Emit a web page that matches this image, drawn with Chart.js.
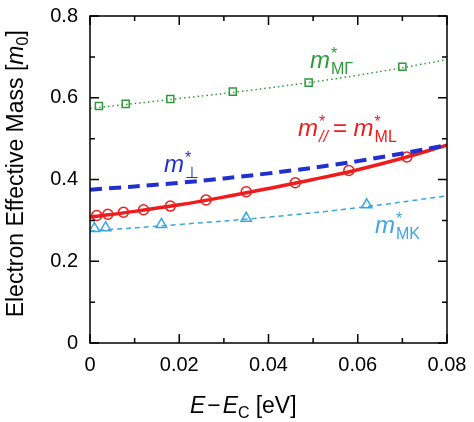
<!DOCTYPE html>
<html><head><meta charset="utf-8">
<script src="https://cdn.jsdelivr.net/npm/chart.js@4/dist/chart.umd.min.js"></script>
<style>body{margin:0;background:#fff}#c{display:block}</style>
</head><body>
<div style="width:474px;height:422px"><canvas id="c"></canvas></div>
<script>
const xTicks = [0, 0.02, 0.04, 0.06, 0.08];
const yTicks = [0, 0.2, 0.4, 0.6, 0.8];

const gammaLineX = [0, 0.02, 0.04, 0.06, 0.08];
const gammaLineY = [0.574, 0.598, 0.624, 0.655, 0.693];
const gammaPtsX = [0.002, 0.008, 0.018, 0.032, 0.049, 0.070];
const gammaPtsY = [0.580, 0.585, 0.597, 0.615, 0.637, 0.676];

const perpX = [0, 0.02, 0.04, 0.06, 0.08];
const perpY = [0.375, 0.392, 0.415, 0.445, 0.484];

const mlLineX = [0, 0.01, 0.02, 0.03, 0.04, 0.05, 0.06, 0.07, 0.08];
const mlLineY = [0.308, 0.322, 0.338, 0.357, 0.378, 0.400, 0.424, 0.452, 0.484];
const mlPtsX = [0.0015, 0.004, 0.0075, 0.012, 0.018, 0.026, 0.035, 0.046, 0.058, 0.071];
const mlPtsY = [0.312, 0.315, 0.320, 0.326, 0.335, 0.350, 0.370, 0.392, 0.422, 0.455];

const mkLineX = [0, 0.02, 0.04, 0.06, 0.08];
const mkLineY = [0.274, 0.290, 0.308, 0.331, 0.360];
const mkPtsX = [0.001, 0.0035, 0.016, 0.035, 0.062];
const mkPtsY = [0.280, 0.282, 0.290, 0.305, 0.338];

const green = '#2e9a3c', blue = '#1f2fd0', red = '#ee1c1c', cyan = '#3aa7e0';
const xy = (xs, ys) => xs.map((x, i) => ({x, y: ys[i]}));
const FONT = '"Liberation Sans", Arial, sans-serif';

function line(d, color, width, dash) {
  return {data: d, borderColor: color, borderWidth: width, borderDash: dash, pointRadius: 0, showLine: true, tension: 0.4, fill: false};
}
function pts(d, color, style, r) {
  return {data: d, borderColor: color, backgroundColor: '#fff', borderWidth: 1.5, pointStyle: style, pointRadius: r, showLine: false};
}

function mlabel(ctx, x, y, sub, color, extra) {
  ctx.save();
  ctx.fillStyle = color;
  ctx.textBaseline = 'alphabetic';
  ctx.font = 'italic 24px ' + FONT;
  ctx.fillText('m', x, y);
  const w = ctx.measureText('m').width;
  ctx.font = '16px ' + FONT;
  ctx.fillText('*', x + w + 1, y - 9);
  ctx.font = (sub === '//' ? 'italic ' : '') + '16px ' + FONT;
  ctx.fillText(sub, x + w + 1, y + 6);
  if (extra) {
    const sw = ctx.measureText(sub).width;
    let px = x + w + sw + 6;
    ctx.font = '24px ' + FONT;
    ctx.fillText('=', px, y);
    px += ctx.measureText('= ').width;
    ctx.font = 'italic 24px ' + FONT;
    ctx.fillText('m', px, y);
    ctx.font = '16px ' + FONT;
    ctx.fillText('*', px + w + 1, y - 9);
    ctx.fillText(extra, px + w + 1, y + 6);
  }
  ctx.restore();
}

const deco = {
  id: 'deco',
  afterDraw(chart) {
    const {ctx, chartArea: a, scales: {x, y}} = chart;
    ctx.save();
    ctx.strokeStyle = '#000';
    ctx.lineWidth = 1.5;
    ctx.strokeRect(a.left, a.top, a.right - a.left, a.bottom - a.top);
    ctx.beginPath();
    for (let v = 0; v <= 0.8001; v += 0.1) {
      const py = y.getPixelForValue(v), L = (Math.round(v * 10) % 2 === 0) ? 9 : 5;
      ctx.moveTo(a.left, py); ctx.lineTo(a.left + L, py);
      ctx.moveTo(a.right, py); ctx.lineTo(a.right - L, py);
    }
    for (let v = 0; v <= 0.0801; v += 0.01) {
      const px = x.getPixelForValue(v), L = (Math.round(v * 100) % 2 === 0) ? 9 : 5;
      ctx.moveTo(px, a.bottom); ctx.lineTo(px, a.bottom - L);
      ctx.moveTo(px, a.top); ctx.lineTo(px, a.top + L);
    }
    ctx.stroke();
    // axis titles
    ctx.fillStyle = '#000';
    ctx.textBaseline = 'alphabetic';
    let cx = 190, cy = 413;
    ctx.font = 'italic 23px ' + FONT; ctx.fillText('E', cx, cy); cx += ctx.measureText('E').width + 2;
    ctx.font = '23px ' + FONT; ctx.fillText('\u2212', cx, cy); cx += ctx.measureText('\u2212').width + 2;
    ctx.font = 'italic 23px ' + FONT; ctx.fillText('E', cx, cy); cx += ctx.measureText('E').width;
    ctx.font = '16px ' + FONT; ctx.fillText('C', cx, cy + 5); cx += ctx.measureText('C').width + 6;
    ctx.font = '23px ' + FONT; ctx.fillText('[eV]', cx, cy);
    ctx.translate(23, 175);
    ctx.rotate(-Math.PI / 2);
    ctx.textAlign = 'left';
    ctx.font = '23px ' + FONT;
    const t = 'Electron Effective Mass [';
    const tw = ctx.measureText(t).width;
    const start = -tw / 2 - 16;
    ctx.fillText(t, start, 0);
    let p = start + tw;
    ctx.font = 'italic 23px ' + FONT; ctx.fillText('m', p, 0); p += ctx.measureText('m').width;
    ctx.font = '16px ' + FONT; ctx.fillText('0', p, 5); p += ctx.measureText('0').width;
    ctx.font = '23px ' + FONT; ctx.fillText(']', p, 0);
    ctx.restore();
    mlabel(ctx, 310, 68, 'M\u0393', green);
    mlabel(ctx, 164, 172, '\u22a5', blue);
    mlabel(ctx, 298, 136, '//', red, 'ML');
    mlabel(ctx, 375, 233, 'MK', cyan);
  }
};

new Chart(document.getElementById('c'), {
  type: 'scatter',
  data: {datasets: [
    line(xy(gammaLineX, gammaLineY), green, 1.5, [1.5, 3]),
    pts(xy(gammaPtsX, gammaPtsY), green, 'rect', 5),
    line(xy(perpX, perpY), blue, 4, [12, 7]),
    line(xy(mlLineX, mlLineY), red, 3.5, []),
    pts(xy(mlPtsX, mlPtsY), red, 'circle', 5),
    line(xy(mkLineX, mkLineY), cyan, 1.5, [5, 4]),
    pts(xy(mkPtsX, mkPtsY), cyan, 'triangle', 6)
  ]},
  options: {
    responsive: true, maintainAspectRatio: false, animation: false,
    layout: {padding: {top: 8, right: 27}},
    plugins: {legend: {display: false}, tooltip: {enabled: false}},
    scales: {
      x: {type: 'linear', min: 0, max: 0.08,
        afterBuildTicks: s => { s.ticks = xTicks.map(v => ({value: v})); },
        afterFit: s => { s.height = 79; },
        grid: {display: false}, border: {display: false},
        ticks: {color: '#000', font: {size: 20, family: FONT}, padding: 2, maxRotation: 0,
          callback: v => v === 0 ? '0' : String(+v.toFixed(2))}},
      y: {min: 0, max: 0.8,
        afterBuildTicks: s => { s.ticks = yTicks.map(v => ({value: v})); },
        afterFit: s => { s.width = 90; },
        grid: {display: false}, border: {display: false},
        ticks: {color: '#000', font: {size: 20, family: FONT}, padding: 4,
          callback: v => v === 0 ? '0' : v.toFixed(1)}}
    }
  },
  plugins: [deco]
});
</script>
</body></html>
